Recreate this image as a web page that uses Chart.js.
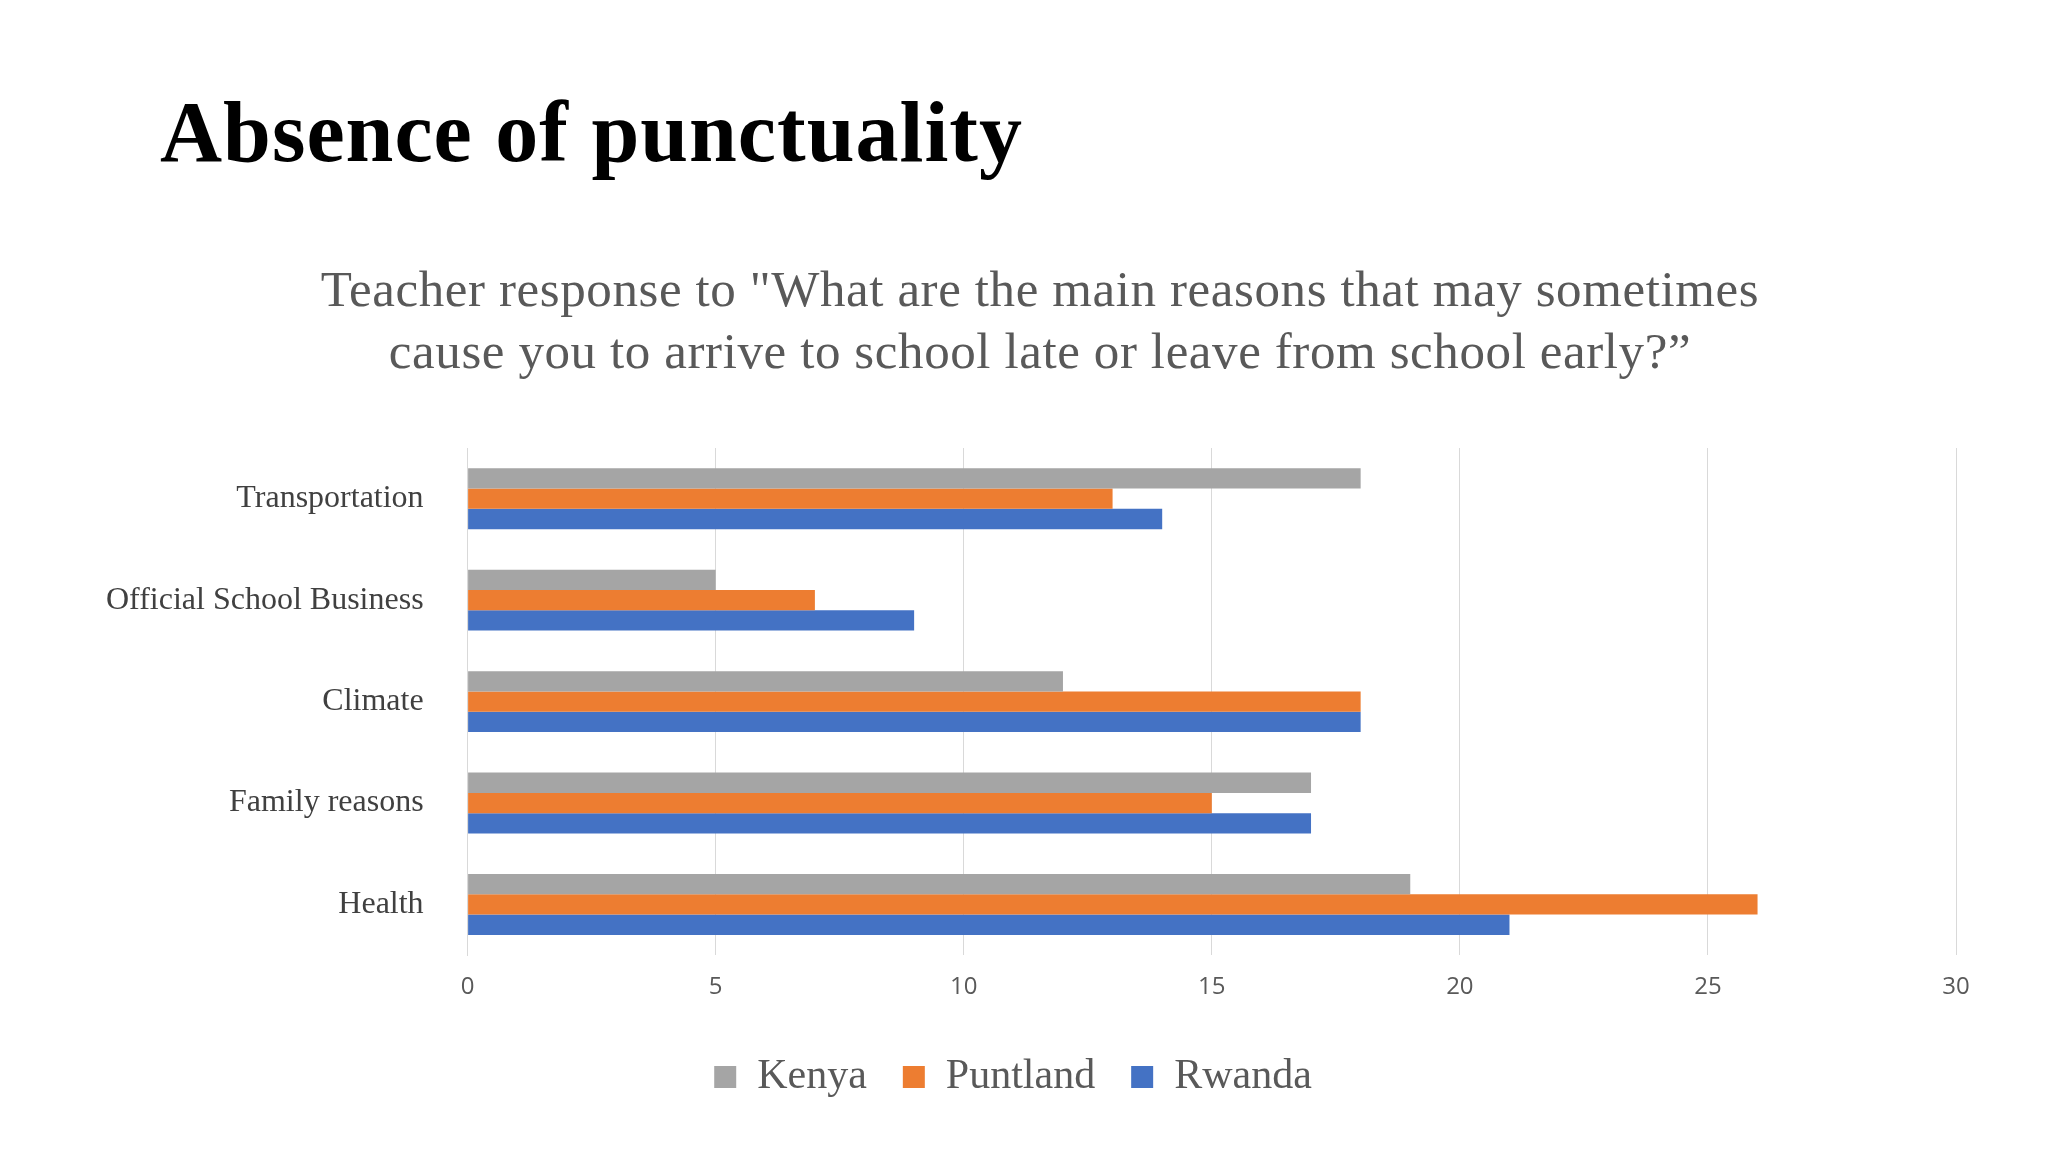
<!DOCTYPE html>
<html>
<head>
<meta charset="utf-8">
<script src="https://cdn.jsdelivr.net/npm/chart.js@4"></script>
<style>
  body { margin: 0; width: 2048px; height: 1152px; background: #fff; position: relative; overflow: hidden; }
  #title { position: absolute; left: 160px; top: 82px; font: bold 86px "Liberation Serif", serif; color: #000; letter-spacing: 1px; }
  #sub { position: absolute; left: 0; width: 2080px; top: 258px; text-align: center; font: 51px "Liberation Serif", serif; color: #595959; line-height: 62px; letter-spacing: 0.6px; }
  #wrap { position: absolute; left: 0; top: 390px; width: 2048px; height: 740px; }
</style>
</head>
<body>
<div id="title">Absence of punctuality</div>
<div id="sub">Teacher response to "What are the main reasons that may sometimes<br>cause you to arrive to school late or leave from school early?”</div>
<div id="wrap"><canvas id="c"></canvas></div>
<script>
const categories = ['Transportation', 'Official School Business', 'Climate', 'Family reasons', 'Health'];
const kenya = [18, 5, 12, 17, 19];
const puntland = [13, 7, 18, 15, 26];
const rwanda = [14, 9, 18, 17, 21];
const xTicks = [0, 5, 10, 15, 20, 25, 30];

new Chart(document.getElementById('c'), {
  type: 'bar',
  data: {
    labels: categories,
    datasets: [
      { label: 'Kenya', data: kenya, backgroundColor: '#a5a5a5' },
      { label: 'Puntland', data: puntland, backgroundColor: '#ed7d31' },
      { label: 'Rwanda', data: rwanda, backgroundColor: '#4472c4' }
    ]
  },
  options: {
    indexAxis: 'y',
    animation: false,
    responsive: true,
    maintainAspectRatio: false,
    categoryPercentage: 0.6,
    barPercentage: 1,
    layout: { padding: { top: 58, right: 92, left: 70, bottom: 22 } },
    scales: {
      x: {
        min: 0, max: 30,
        afterBuildTicks: a => { a.ticks = xTicks.map(v => ({ value: v })); },
        ticks: { color: '#595959', font: { family: 'Open Sans', size: 24 }, padding: 18 },
        grid: { color: '#d9d9d9', drawTicks: false },
        border: { display: false }
      },
      y: {
        ticks: { color: '#404040', font: { family: 'Liberation Serif', size: 32 }, padding: 36 },
        grid: { display: false },
        border: { color: '#d9d9d9' }
      }
    },
    plugins: {
      legend: {
        position: 'bottom',
        labels: { color: '#595959', font: { family: 'Liberation Serif', size: 42 }, boxWidth: 22, boxHeight: 22, padding: 36 }
      },
      tooltip: { enabled: false }
    }
  }
});
</script>
</body>
</html>
